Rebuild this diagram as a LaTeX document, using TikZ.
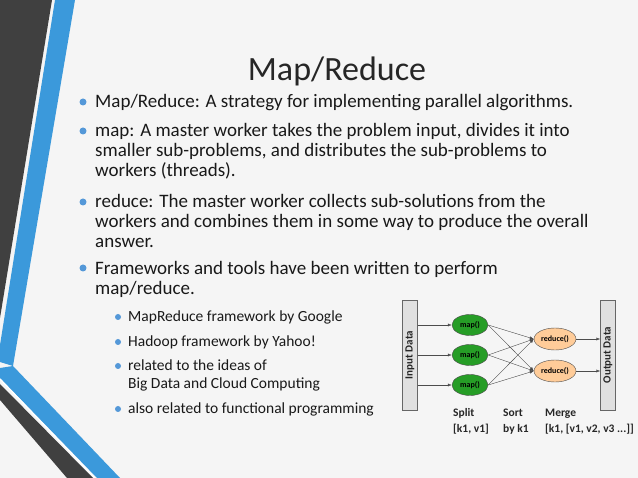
\documentclass[tikz,border=0pt]{standalone}
\usepackage{fontspec}
\setmainfont{Carlito}
\usetikzlibrary{arrows.meta,shapes.geometric}
\begin{document}
\begin{tikzpicture}[x=1pt,y=-1pt,
  txt/.style={anchor=base west,inner sep=0,font=\fontsize{19}{19}\selectfont,text=black!90},
  sub/.style={anchor=base west,inner sep=0,font=\fontsize{15.5}{15.5}\selectfont,text=black!90},
  bul/.style={circle,fill=cyan!60!blue!70,inner sep=0,minimum size=7},
  sbul/.style={circle,fill=cyan!60!blue!70,inner sep=0,minimum size=6},
  mapn/.style={ellipse,draw=black!70,fill=green!55!black!85,minimum width=36,minimum height=21,inner sep=0,font=\fontsize{8}{8}\selectfont\bfseries},
  redn/.style={ellipse,draw=black!70,fill=orange!40,minimum width=42,minimum height=22,inner sep=0,font=\fontsize{8}{8}\selectfont\bfseries},
  box/.style={draw=black!60,fill=black!12,minimum width=15,minimum height=110,inner sep=0},
  arr/.style={-{Latex[length=4pt]},black!70},
  lbl/.style={anchor=base west,inner sep=0,font=\fontsize{11.5}{11.5}\selectfont\bfseries,text=black!85}]
\useasboundingbox (0,0) rectangle (638,478);
\fill[black!4] (0,0) rectangle (638,478);
% decoration
\fill[black!75] (13,0) -- (52,0) -- (0,318) -- (0,0) -- cycle;
\fill[cyan!70!blue!80] (55,0) -- (75,0) -- (13,366) -- (0,362) -- (0,345) -- cycle;
\fill[cyan!70!blue!80] (13,366) -- (0,368) -- (0,378) -- (97,478) -- (120,478) -- cycle;
\fill[black!75] (0,384) -- (0,400) -- (67,478) -- (93,478) -- cycle;
\draw[white,line width=1.2] (0,379) -- (95,478);
% title
\node[anchor=base,inner sep=0,font=\fontsize{34}{34}\selectfont,text=black!85] (title) at (337,81) {Map/Reduce};
% bullets
\node[bul] (b1) at (83,102) {}; \node[txt] (t1) at (95,108) {Map/Reduce: A strategy for implementing parallel algorithms.};
\node[bul] (b2) at (83,131) {}; \node[txt] (t2) at (95,137) {map: A master worker takes the problem input, divides it into};
\node[txt] (t2b) at (95,157) {smaller sub-problems, and distributes the sub-problems to};
\node[txt] (t2c) at (95,177) {workers (threads).};
\node[bul] (b3) at (83,202) {}; \node[txt] (t3) at (95,208) {reduce: The master worker collects sub-solutions from the};
\node[txt] (t3b) at (95,228) {workers and combines them in some way to produce the overall};
\node[txt] (t3c) at (95,248) {answer.};
\node[bul] (b4) at (83,268) {}; \node[txt] (t4) at (95,275) {Frameworks and tools have been written to perform};
\node[txt] (t4b) at (95,295) {map/reduce.};
\node[sbul] (s1) at (118,317) {}; \node[sub] (u1) at (128,322) {MapReduce framework by Google};
\node[sbul] (s2) at (118,342) {}; \node[sub] (u2) at (128,347) {Hadoop framework by Yahoo!};
\node[sbul] (s3) at (118,366) {}; \node[sub] (u3) at (128,371) {related to the ideas of};
\node[sub] (u3b) at (128,389) {Big Data and Cloud Computing};
\node[sbul] (s4) at (118,409) {}; \node[sub] (u4) at (128,414) {also related to functional programming};
% diagram
\node[box] (in) at (410,355) {};
\node[rotate=90,font=\fontsize{11}{11}\selectfont\bfseries,text=black!85] (inl) at (410,355) {Input Data};
\node[box] (out) at (608,355) {};
\node[rotate=90,font=\fontsize{11}{11}\selectfont\bfseries,text=black!85] (outl) at (608,355) {Output Data};
\node[mapn] (m1) at (470,325) {map()};
\node[mapn] (m2) at (470,355) {map()};
\node[mapn] (m3) at (470,385) {map()};
\node[redn] (r1) at (555,339) {reduce()};
\node[redn] (r2) at (555,371) {reduce()};
\foreach \m in {m1,m2,m3} {\draw[arr] (in.east |- \m) -- (\m.west);}
\foreach \m in {m1,m2,m3} {\foreach \r in {r1,r2} {\draw[arr] (\m.east) -- (\r.west);}}
\draw[arr] (r1.east) -- (out.west |- r1);
\draw[arr] (r2.east) -- (out.west |- r2);
\node[lbl] (l1) at (453,417) {Split};
\node[lbl] (l2) at (453,433) {[k1, v1]};
\node[lbl] (l3) at (503,417) {Sort};
\node[lbl] (l4) at (503,433) {by k1};
\node[lbl] (l5) at (545,417) {Merge};
\node[lbl] (l6) at (545,433) {[k1, [v1, v2, v3 ...]]};
\end{tikzpicture}
\end{document}
